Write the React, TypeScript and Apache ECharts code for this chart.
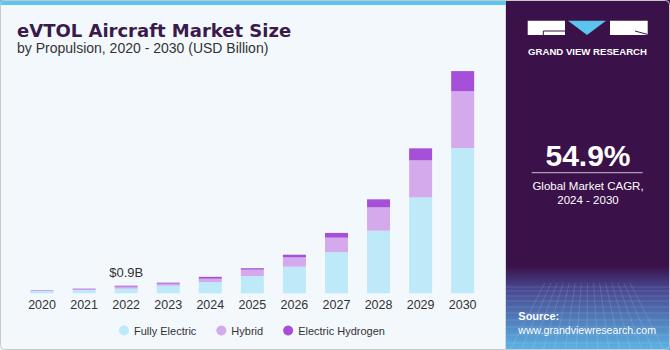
import React, { useEffect, useRef } from "react";
import * as echarts from "echarts";

const years = ["2020", "2021", "2022", "2023", "2024", "2025", "2026", "2027", "2028", "2029", "2030"];
const fullyElectric = [0.27, 0.39, 0.55, 0.9, 1.34, 2.05, 3.15, 4.86, 7.41, 11.37, 17.2];
const hybrid = [0.06, 0.08, 0.24, 0.24, 0.39, 0.75, 1.11, 1.73, 2.77, 4.38, 6.75];
const electricHydrogen = [0.04, 0.08, 0.11, 0.12, 0.22, 0.17, 0.31, 0.56, 0.95, 1.42, 2.37];
const highlightIndex = 2;
const highlightLabel = "$0.9B";
const seriesNames = ["Fully Electric", "Hybrid", "Electric Hydrogen"];
const colors = ["#BEE9F9", "#D5AAEC", "#A64FD8"];

function meshLines(): any[] {
  const out: any[] = [];
  const vx = 588;
  const vy = 200;
  const top = 283;
  const bottom = 350;
  const hy = [287, 291, 296, 301, 307, 313, 320, 327, 335, 343];
  for (const y of hy) {
    out.push({ type: "line", z: -8, shape: { x1: 506, y1: y, x2: 670, y2: y }, style: { stroke: "rgba(255,255,255,0.13)", lineWidth: 1 } });
  }
  for (let xb = 510; xb <= 668; xb += 11) {
    const t = (top - vy) / (bottom - vy);
    const xt = vx + (xb - vx) * t;
    out.push({ type: "line", z: -8, shape: { x1: xt, y1: top, x2: xb, y2: bottom }, style: { stroke: "rgba(255,255,255,0.13)", lineWidth: 1 } });
  }
  return out;
}

export default function App() {
  const ref = useRef<HTMLDivElement>(null);
  useEffect(() => {
    document.body.style.margin = "0";
    if (!ref.current) return;
    const chart = echarts.init(ref.current, undefined, { renderer: "svg" });
    const font = "'Liberation Sans', Arial, sans-serif";
    const panelGrad = new echarts.graphic.LinearGradient(0, 0, 0, 1, [
      { offset: 0, color: "#3A1149" },
      { offset: 0.76, color: "#3A1149" },
      { offset: 0.82, color: "#46438C" },
      { offset: 1, color: "#5BB4E6" },
    ]);
    const ehData = electricHydrogen.map((v, i) =>
      i === highlightIndex
        ? {
            value: v,
            label: {
              show: true,
              position: "top",
              distance: 7,
              formatter: highlightLabel,
              color: "#333",
              fontSize: 13,
              fontFamily: font,
            },
          }
        : v
    );
    chart.setOption({
      animation: false,
      textStyle: { fontFamily: font },
      grid: { left: 21, right: 186.3, top: 56.9, bottom: 56.7, containLabel: false },
      xAxis: {
        type: "category",
        data: years,
        axisLine: { show: false },
        axisTick: { show: false },
        axisLabel: { color: "#333", fontSize: 12.5, margin: 5, fontFamily: font },
      },
      yAxis: { type: "value", min: 0, max: 28, show: false, splitLine: { show: false } },
      legend: {
        left: 114,
        top: 320,
        icon: "circle",
        itemWidth: 10,
        itemHeight: 10,
        itemGap: 20,
        textStyle: { color: "#333", fontSize: 11, fontFamily: font },
        data: seriesNames,
      },
      series: [
        { name: seriesNames[0], type: "bar", stack: "t", barWidth: 23, data: fullyElectric, itemStyle: { color: colors[0] } },
        { name: seriesNames[1], type: "bar", stack: "t", barWidth: 23, data: hybrid, itemStyle: { color: colors[1] } },
        { name: seriesNames[2], type: "bar", stack: "t", barWidth: 23, data: ehData, itemStyle: { color: colors[2] } },
      ],
      graphic: [
        { type: "rect", z: -10, shape: { x: 0, y: 0, width: 506, height: 350 }, style: { fill: "#F3F8FC" } },
        { type: "rect", z: -9, shape: { x: 0, y: 0, width: 506, height: 5 }, style: { fill: "#5BC5EF" } },
        { type: "rect", z: -9, shape: { x: 506, y: 0, width: 164, height: 350 }, style: { fill: panelGrad } },
        ...meshLines(),
        { type: "line", z: -8, shape: { x1: 505.5, y1: 5, x2: 505.5, y2: 350 }, style: { stroke: "#D5D9DE", lineWidth: 1 } },
        {
          type: "text",
          left: 17,
          top: 21,
          style: { text: "eVTOL Aircraft Market Size", fill: "#3A1A4A", font: "bold 18px 'DejaVu Sans', sans-serif" },
        },
        {
          type: "text",
          left: 17,
          top: 41,
          style: { text: "by Propulsion, 2020 - 2030 (USD Billion)", fill: "#333", font: "14px 'Liberation Sans', Arial, sans-serif" },
        },
        // logo
        { type: "rect", shape: { x: 527.7, y: 20.7, width: 37.3, height: 14.3 }, style: { fill: "#FFFFFF" } },
        { type: "polyline", shape: { points: [[543.3, 35], [543.3, 31], [565, 31]] }, style: { stroke: "#3A1149", lineWidth: 1, fill: null } },
        { type: "polygon", shape: { points: [[568, 20.7], [606, 20.7], [587, 35]] }, style: { fill: "#5BC5EF" } },
        { type: "rect", shape: { x: 610, y: 20.7, width: 37.7, height: 14.3 }, style: { fill: "#FFFFFF" } },
        { type: "line", shape: { x1: 635, y1: 31, x2: 647.7, y2: 34.5 }, style: { stroke: "#3A1149", lineWidth: 1 } },
        {
          type: "text",
          x: 587.5,
          y: 51,
          style: { text: "GRAND VIEW RESEARCH", fill: "#FFFFFF", font: "bold 9.6px 'Liberation Sans', Arial, sans-serif", textAlign: "center", textVerticalAlign: "middle" },
        },
        {
          type: "text",
          x: 588,
          y: 155,
          style: { text: "54.9%", fill: "#FFFFFF", font: "bold 30px 'Liberation Sans', Arial, sans-serif", textAlign: "center", textVerticalAlign: "middle" },
        },
        { type: "line", shape: { x1: 531.7, y1: 172.7, x2: 642.7, y2: 172.7 }, style: { stroke: "#C9BFD0", lineWidth: 1 } },
        {
          type: "text",
          x: 588,
          y: 185.7,
          style: { text: "Global Market CAGR,", fill: "#FFFFFF", font: "11.5px 'Liberation Sans', Arial, sans-serif", textAlign: "center", textVerticalAlign: "middle" },
        },
        {
          type: "text",
          x: 588,
          y: 200,
          style: { text: "2024 - 2030", fill: "#FFFFFF", font: "11.5px 'Liberation Sans', Arial, sans-serif", textAlign: "center", textVerticalAlign: "middle" },
        },
        {
          type: "text",
          x: 518.3,
          y: 316,
          style: { text: "Source:", fill: "#FFFFFF", font: "bold 11px 'Liberation Sans', Arial, sans-serif", textVerticalAlign: "middle" },
        },
        {
          type: "text",
          x: 518.3,
          y: 329.5,
          style: { text: "www.grandviewresearch.com", fill: "#FFFFFF", font: "10.6px 'Liberation Sans', Arial, sans-serif", textVerticalAlign: "middle" },
        },
        { type: "rect", z: 100, shape: { x: 0.5, y: 0.5, width: 669, height: 349, r: 4 }, style: { fill: null, stroke: "#C8C8C8", lineWidth: 1 } },
      ],
    });
    return () => chart.dispose();
  }, []);
  return <div ref={ref} style={{ width: 670, height: 350, position: "absolute", left: 0, top: 0 }} />;
}
